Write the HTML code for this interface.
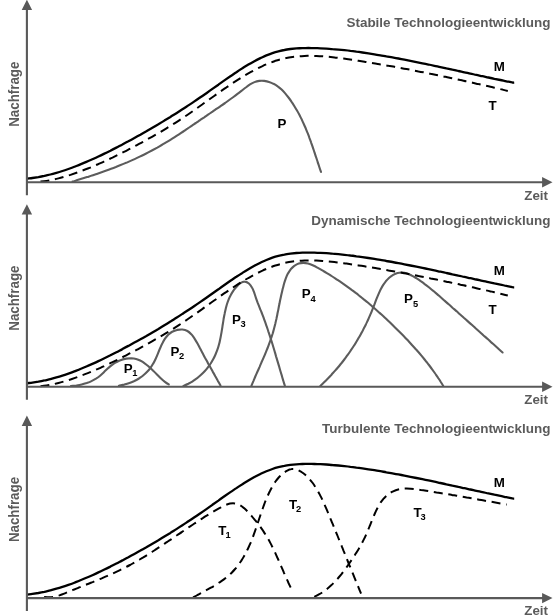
<!DOCTYPE html>
<html lang="de"><head><meta charset="utf-8"><title>Technologieentwicklung</title>
<style>html,body{margin:0;padding:0;background:#fff}body{width:553px;height:615px;position:relative;overflow:hidden}</style>
</head><body>
<svg width="553" height="615" viewBox="0 0 553 615" style="position:absolute;left:0;top:0;filter:blur(0.4px)">
<defs>
<path id="m" d="M26.4,178.7C27.4,178.5 30.4,178.3 32.4,178.0C34.4,177.7 36.4,177.4 38.4,177.1C40.4,176.7 42.4,176.3 44.4,175.9C46.4,175.4 48.4,175.0 50.4,174.5C52.4,174.0 54.4,173.4 56.4,172.8C58.4,172.3 60.4,171.7 62.4,171.0C64.4,170.4 66.4,169.7 68.4,169.0C70.4,168.3 72.4,167.6 74.4,166.8C76.4,166.0 78.4,165.3 80.4,164.4C82.4,163.6 84.4,162.8 86.4,161.9C88.4,161.1 90.4,160.2 92.4,159.3C94.4,158.4 96.4,157.5 98.4,156.5C100.4,155.6 102.4,154.6 104.4,153.6C106.4,152.7 108.4,151.7 110.4,150.7C112.4,149.6 114.4,148.6 116.4,147.6C118.4,146.6 120.4,145.5 122.4,144.5C124.4,143.4 126.4,142.3 128.4,141.3C130.4,140.2 132.4,139.1 134.4,138.0C136.4,136.9 138.4,135.8 140.4,134.7C142.4,133.5 144.4,132.4 146.4,131.3C148.4,130.1 150.4,129.0 152.4,127.8C154.4,126.6 156.4,125.4 158.4,124.3C160.4,123.1 162.4,121.9 164.4,120.6C166.4,119.4 168.4,118.2 170.4,117.0C172.4,115.7 174.4,114.5 176.4,113.2C178.4,111.9 180.4,110.6 182.4,109.3C184.4,108.1 186.4,106.7 188.4,105.4C190.4,104.1 192.4,102.8 194.4,101.4C196.4,100.1 198.4,98.7 200.4,97.3C202.4,96.0 204.4,94.6 206.4,93.2C208.4,91.8 210.4,90.4 212.4,88.9C214.4,87.5 216.4,86.1 218.4,84.7C220.4,83.2 222.4,81.8 224.4,80.4C226.4,79.0 228.4,77.6 230.4,76.2C232.4,74.9 234.4,73.5 236.4,72.2C238.4,70.8 240.4,69.5 242.4,68.3C244.4,67.0 246.4,65.8 248.4,64.6C250.4,63.4 252.4,62.3 254.4,61.2C256.4,60.1 258.4,59.1 260.4,58.1C262.4,57.2 264.4,56.2 266.4,55.4C268.4,54.6 270.4,53.8 272.4,53.1C274.4,52.4 276.4,51.8 278.4,51.3C280.4,50.8 282.4,50.3 284.4,50.0C286.4,49.6 288.4,49.3 290.4,49.0C292.4,48.8 294.4,48.6 296.4,48.4C298.4,48.3 300.4,48.2 302.4,48.1C304.4,48.1 306.4,48.0 308.4,48.0C310.4,48.0 312.4,48.1 314.4,48.1C316.4,48.2 318.4,48.2 320.4,48.3C322.4,48.4 324.4,48.5 326.4,48.6C328.4,48.8 330.4,48.9 332.4,49.1C334.4,49.2 336.4,49.4 338.4,49.6C340.4,49.8 342.4,50.0 344.4,50.2C346.4,50.4 348.4,50.6 350.4,50.9C352.4,51.1 354.4,51.4 356.4,51.7C358.4,51.9 360.4,52.2 362.4,52.5C364.4,52.8 366.4,53.1 368.4,53.4C370.4,53.7 372.4,54.0 374.4,54.3C376.4,54.7 378.4,55.0 380.4,55.3C382.4,55.7 384.4,56.0 386.4,56.4C388.4,56.7 390.4,57.1 392.4,57.4C394.4,57.8 396.4,58.2 398.4,58.5C400.4,58.9 402.4,59.3 404.4,59.7C406.4,60.1 408.4,60.5 410.4,60.9C412.4,61.3 414.4,61.7 416.4,62.1C418.4,62.5 420.4,62.9 422.4,63.3C424.4,63.7 426.4,64.1 428.4,64.5C430.4,65.0 432.4,65.4 434.4,65.8C436.4,66.2 438.4,66.7 440.4,67.1C442.4,67.5 444.4,67.9 446.4,68.4C448.4,68.8 450.4,69.2 452.4,69.7C454.4,70.1 456.4,70.5 458.4,71.0C460.4,71.4 462.4,71.9 464.4,72.3C466.4,72.7 468.4,73.2 470.4,73.6C472.4,74.0 474.4,74.5 476.4,74.9C478.4,75.3 480.4,75.8 482.4,76.2C484.4,76.6 486.4,77.1 488.4,77.5C490.4,77.9 492.4,78.3 494.4,78.8C496.4,79.2 498.4,79.6 500.4,80.0C502.4,80.4 504.4,80.9 506.4,81.3C508.4,81.7 511.1,82.2 512.4,82.5C513.7,82.7 513.9,82.8 514.2,82.8"/>
<path id="t" d="M40.5,181.6C41.5,181.5 44.5,181.2 46.5,180.9C48.5,180.6 50.5,180.2 52.5,179.8C54.5,179.4 56.5,178.9 58.5,178.4C60.5,177.9 62.5,177.3 64.5,176.7C66.5,176.1 68.5,175.5 70.5,174.9C72.5,174.2 74.5,173.5 76.5,172.8C78.5,172.1 80.5,171.4 82.5,170.6C84.5,169.9 86.5,169.1 88.5,168.3C90.5,167.5 92.5,166.6 94.5,165.8C96.5,164.9 98.5,164.1 100.5,163.2C102.5,162.3 104.5,161.3 106.5,160.4C108.5,159.5 110.5,158.5 112.5,157.6C114.5,156.6 116.5,155.6 118.5,154.6C120.5,153.6 122.5,152.6 124.5,151.6C126.5,150.6 128.5,149.5 130.5,148.5C132.5,147.4 134.5,146.4 136.5,145.3C138.5,144.2 140.5,143.2 142.5,142.1C144.5,141.0 146.5,139.9 148.5,138.7C150.5,137.6 152.5,136.5 154.5,135.3C156.5,134.2 158.5,133.0 160.5,131.9C162.5,130.7 164.5,129.5 166.5,128.3C168.5,127.1 170.5,125.9 172.5,124.6C174.5,123.4 176.5,122.1 178.5,120.8C180.5,119.5 182.5,118.2 184.5,116.8C186.5,115.5 188.5,114.1 190.5,112.7C192.5,111.3 194.5,109.9 196.5,108.5C198.5,107.1 200.5,105.7 202.5,104.3C204.5,102.8 206.5,101.4 208.5,100.0C210.5,98.5 212.5,97.1 214.5,95.7C216.5,94.3 218.5,92.8 220.5,91.4C222.5,90.0 224.5,88.6 226.5,87.3C228.5,85.9 230.5,84.6 232.5,83.2C234.5,81.9 236.5,80.6 238.5,79.3C240.5,78.1 242.5,76.8 244.5,75.6C246.5,74.5 248.5,73.3 250.5,72.2C252.5,71.1 254.5,70.0 256.5,69.0C258.5,67.9 260.5,67.0 262.5,66.1C264.5,65.1 266.5,64.3 268.5,63.5C270.5,62.7 272.5,61.9 274.5,61.2C276.5,60.6 278.5,59.9 280.5,59.4C282.5,58.8 284.5,58.4 286.5,57.9C288.5,57.5 290.5,57.2 292.5,56.9C294.5,56.6 296.5,56.4 298.5,56.3C300.5,56.1 302.5,56.0 304.5,55.9C306.5,55.9 308.5,55.8 310.5,55.8C312.5,55.9 314.5,55.9 316.5,56.0C318.5,56.1 320.5,56.2 322.5,56.3C324.5,56.5 326.5,56.6 328.5,56.8C330.5,57.0 332.5,57.2 334.5,57.4C336.5,57.7 338.5,57.9 340.5,58.2C342.5,58.5 344.5,58.7 346.5,59.0C348.5,59.3 350.5,59.6 352.5,59.9C354.5,60.2 356.5,60.5 358.5,60.8C360.5,61.1 362.5,61.4 364.5,61.7C366.5,62.1 368.5,62.4 370.5,62.7C372.5,63.0 374.5,63.4 376.5,63.7C378.5,64.0 380.5,64.4 382.5,64.7C384.5,65.1 386.5,65.4 388.5,65.8C390.5,66.1 392.5,66.5 394.5,66.8C396.5,67.2 398.5,67.6 400.5,67.9C402.5,68.3 404.5,68.7 406.5,69.0C408.5,69.4 410.5,69.8 412.5,70.2C414.5,70.6 416.5,71.0 418.5,71.4C420.5,71.7 422.5,72.1 424.5,72.5C426.5,72.9 428.5,73.3 430.5,73.8C432.5,74.2 434.5,74.6 436.5,75.0C438.5,75.4 440.5,75.8 442.5,76.2C444.5,76.6 446.5,77.1 448.5,77.5C450.5,77.9 452.5,78.3 454.5,78.8C456.5,79.2 458.5,79.6 460.5,80.1C462.5,80.5 464.5,81.0 466.5,81.4C468.5,81.8 470.5,82.3 472.5,82.7C474.5,83.2 476.5,83.6 478.5,84.1C480.5,84.5 482.5,85.0 484.5,85.4C486.5,85.9 488.5,86.4 490.5,86.8C492.5,87.3 494.5,87.7 496.5,88.2C498.5,88.7 500.6,89.2 502.5,89.6C504.4,90.1 506.9,90.7 507.8,90.9"/>
<g id="axes"><path d="M26.9,8V195.2M26.9,182.2H544" fill="none" stroke="#595959" stroke-width="2.1"/><path d="M26.9,-0.3L32.1,10H21.7Z M552.5,182.2L542.1,187.4V177Z" fill="#595959"/></g>
</defs>
<g fill="none" stroke="#5c5c5c" stroke-width="2.1" stroke-linecap="round">
<path d="M72.6,181.6C73.4,181.3 75.8,180.6 77.4,180.1C79.0,179.6 80.7,179.1 82.3,178.6C83.9,178.1 85.5,177.6 87.1,177.1C88.7,176.6 90.3,176.0 92.0,175.5C93.6,175.0 95.2,174.4 96.8,173.9C98.4,173.4 100.0,172.8 101.6,172.2C103.2,171.7 104.8,171.1 106.4,170.5C108.0,170.0 109.6,169.4 111.1,168.8C112.7,168.2 114.3,167.6 115.9,167.0C117.5,166.3 119.0,165.7 120.6,165.1C122.2,164.5 123.8,163.8 125.3,163.1C126.9,162.5 128.4,161.8 130.0,161.1C131.5,160.5 133.1,159.8 134.6,159.1C136.2,158.4 137.7,157.7 139.2,156.9C140.8,156.2 142.3,155.5 143.8,154.7C145.3,154.0 146.8,153.2 148.3,152.4C149.8,151.6 151.3,150.8 152.8,150.0C154.3,149.2 155.8,148.4 157.3,147.6C158.8,146.7 160.2,145.9 161.7,145.0C163.2,144.2 164.6,143.3 166.1,142.4C167.5,141.6 169.0,140.7 170.4,139.8C171.9,138.9 173.3,138.0 174.7,137.1C176.2,136.1 177.6,135.2 179.0,134.3C180.4,133.4 181.9,132.4 183.3,131.5C184.7,130.6 186.1,129.6 187.5,128.7C188.9,127.7 190.3,126.8 191.7,125.8C193.1,124.9 194.5,123.9 195.9,123.0C197.3,122.0 198.7,121.1 200.1,120.1C201.5,119.2 202.9,118.2 204.3,117.3C205.7,116.3 207.1,115.4 208.5,114.4C209.9,113.5 211.2,112.5 212.6,111.6C214.0,110.6 215.4,109.7 216.8,108.7C218.2,107.8 219.6,106.8 220.9,105.9C222.3,104.9 223.7,103.9 225.1,103.0C226.5,102.0 227.9,101.0 229.2,100.0C230.6,99.0 232.0,98.0 233.4,97.0C234.8,96.0 236.1,95.0 237.5,93.9C238.9,92.9 240.3,91.8 241.7,90.7C243.0,89.7 244.4,88.5 245.8,87.5C247.2,86.4 248.6,85.3 250.0,84.4C251.5,83.5 253.0,82.7 254.5,82.1C256.0,81.5 257.7,81.1 259.3,80.9C260.9,80.7 262.6,80.7 264.2,80.9C265.8,81.1 267.5,81.4 269.0,81.9C270.6,82.4 272.1,83.0 273.5,83.8C275.0,84.5 276.4,85.4 277.7,86.4C279.1,87.4 280.4,88.5 281.6,89.6C282.8,90.8 284.0,92.1 285.2,93.4C286.3,94.7 287.4,96.1 288.5,97.5C289.6,98.9 290.6,100.3 291.6,101.8C292.6,103.2 293.5,104.7 294.4,106.2C295.3,107.7 296.2,109.2 297.0,110.6C297.9,112.1 298.7,113.6 299.5,115.1C300.3,116.6 301.0,118.1 301.8,119.6C302.5,121.2 303.2,122.7 303.9,124.2C304.6,125.7 305.2,127.3 305.9,128.8C306.5,130.3 307.1,131.9 307.8,133.4C308.4,135.0 309.0,136.5 309.5,138.1C310.1,139.7 310.7,141.2 311.2,142.8C311.8,144.4 312.4,146.0 312.9,147.6C313.4,149.2 314.0,150.8 314.5,152.4C315.0,154.0 315.6,155.6 316.1,157.2C316.6,158.8 317.2,160.4 317.7,162.1C318.2,163.7 318.8,165.3 319.3,167.0C319.8,168.6 320.7,171.1 321.0,171.9"/>
<path d="M71.0,386.0C71.9,385.9 74.6,385.7 76.4,385.5C78.2,385.2 80.0,384.9 81.7,384.5C83.4,384.1 85.1,383.6 86.7,383.1C88.3,382.5 89.9,381.9 91.5,381.1C93.0,380.4 94.5,379.6 96.0,378.7C97.4,377.8 98.8,376.8 100.1,375.7C101.4,374.6 102.7,373.4 103.9,372.2C105.2,371.0 106.4,369.7 107.7,368.5C109.0,367.4 110.3,366.2 111.8,365.1C113.2,364.1 114.7,363.1 116.3,362.2C117.9,361.4 119.5,360.6 121.2,360.0C122.8,359.4 124.5,358.9 126.2,358.6C127.9,358.3 129.6,358.2 131.2,358.2C132.8,358.3 134.5,358.5 136.1,358.9C137.6,359.3 139.2,360.0 140.7,360.8C142.2,361.5 143.6,362.5 145.0,363.6C146.5,364.6 147.8,365.8 149.2,367.0C150.6,368.2 151.9,369.5 153.2,370.8C154.6,372.1 155.9,373.4 157.2,374.7C158.5,376.0 159.7,377.3 161.0,378.5C162.3,379.7 163.6,380.8 164.9,381.8C166.2,382.8 168.1,384.0 168.8,384.4"/>
<path d="M118.9,385.7C119.8,385.5 122.5,385.0 124.3,384.6C126.1,384.1 127.8,383.6 129.5,383.0C131.2,382.4 132.8,381.7 134.4,381.0C136.0,380.2 137.5,379.4 139.0,378.5C140.4,377.5 141.8,376.6 143.1,375.5C144.5,374.4 145.7,373.3 146.9,372.0C148.1,370.8 149.3,369.5 150.3,368.1C151.3,366.7 152.3,365.2 153.2,363.6C154.1,362.1 154.9,360.4 155.7,358.7C156.5,357.0 157.2,355.3 157.9,353.6C158.6,351.8 159.3,350.0 160.1,348.3C160.8,346.6 161.5,344.9 162.4,343.3C163.2,341.7 164.0,340.2 165.0,338.7C166.0,337.3 167.0,336.0 168.2,334.8C169.4,333.7 170.7,332.6 172.2,331.8C173.7,331.0 175.4,330.3 177.1,329.9C178.8,329.6 180.7,329.4 182.4,329.5C184.1,329.7 185.9,330.2 187.4,331.0C188.9,331.8 190.2,333.1 191.5,334.4C192.7,335.7 193.7,337.3 194.7,338.8C195.7,340.3 196.6,341.9 197.5,343.5C198.4,345.1 199.2,346.7 200.0,348.3C200.9,349.9 201.7,351.5 202.5,353.1C203.3,354.6 204.2,356.2 205.0,357.8C205.9,359.3 206.7,360.9 207.6,362.4C208.4,363.9 209.3,365.5 210.2,367.0C211.0,368.5 211.9,370.1 212.7,371.6C213.6,373.1 214.5,374.7 215.3,376.2C216.2,377.8 217.1,379.3 217.9,380.9C218.8,382.5 220.1,384.9 220.5,385.6"/>
<path d="M183.5,385.9C184.3,385.6 186.7,384.6 188.3,383.8C189.8,383.0 191.3,382.2 192.7,381.3C194.2,380.3 195.6,379.4 196.9,378.3C198.3,377.3 199.6,376.2 200.8,375.1C202.1,373.9 203.3,372.7 204.4,371.5C205.6,370.2 206.7,369.0 207.7,367.6C208.7,366.3 209.7,364.9 210.7,363.5C211.6,362.1 212.5,360.6 213.3,359.1C214.1,357.6 214.8,356.1 215.5,354.5C216.2,352.9 216.8,351.3 217.4,349.7C218.0,348.1 218.5,346.5 218.9,344.8C219.4,343.1 219.8,341.4 220.1,339.7C220.5,338.0 220.8,336.3 221.1,334.6C221.5,332.9 221.7,331.1 222.0,329.4C222.3,327.7 222.5,325.9 222.8,324.2C223.1,322.5 223.4,320.7 223.6,319.0C223.9,317.3 224.2,315.6 224.6,313.9C224.9,312.2 225.3,310.6 225.7,308.9C226.1,307.3 226.5,305.6 227.0,304.0C227.5,302.5 228.1,300.9 228.7,299.4C229.3,297.8 230.0,296.3 230.8,294.9C231.6,293.4 232.5,292.0 233.4,290.6C234.4,289.3 235.4,287.9 236.6,286.7C237.7,285.4 239.0,284.0 240.4,283.1C241.7,282.3 243.3,281.5 244.7,281.6C246.1,281.6 247.7,282.5 248.9,283.5C250.1,284.6 251.2,286.1 252.1,287.7C253.0,289.2 253.6,291.1 254.3,292.8C254.9,294.6 255.4,296.4 256.0,298.2C256.6,299.9 257.2,301.6 257.8,303.2C258.5,304.8 259.1,306.3 259.7,307.9C260.3,309.5 261.0,311.0 261.6,312.5C262.2,314.1 262.8,315.6 263.4,317.2C264.0,318.8 264.5,320.3 265.1,321.9C265.7,323.5 266.2,325.1 266.8,326.7C267.3,328.3 267.9,329.9 268.4,331.6C269.0,333.2 269.5,334.8 270.0,336.4C270.5,338.1 271.0,339.7 271.6,341.3C272.1,343.0 272.6,344.6 273.1,346.3C273.6,347.9 274.1,349.6 274.6,351.2C275.1,352.9 275.6,354.5 276.0,356.2C276.5,357.8 277.0,359.5 277.5,361.1C278.0,362.8 278.5,364.4 279.0,366.1C279.4,367.7 279.9,369.4 280.4,371.0C280.9,372.6 281.4,374.3 281.9,375.9C282.3,377.5 282.8,379.1 283.3,380.8C283.8,382.4 284.6,384.8 284.8,385.6"/>
<path d="M251.5,385.7C251.8,385.0 252.7,382.7 253.4,381.1C254.0,379.6 254.7,378.0 255.3,376.5C256.0,374.9 256.7,373.4 257.4,371.8C258.1,370.2 258.8,368.7 259.5,367.1C260.1,365.5 260.8,363.9 261.5,362.3C262.2,360.8 262.9,359.2 263.6,357.6C264.3,356.0 265.0,354.4 265.6,352.8C266.3,351.2 266.9,349.6 267.6,348.0C268.2,346.4 268.8,344.8 269.4,343.2C270.0,341.6 270.6,340.0 271.1,338.3C271.6,336.7 272.2,335.1 272.7,333.5C273.1,331.9 273.6,330.3 274.0,328.7C274.5,327.0 274.9,325.4 275.3,323.8C275.6,322.2 276.0,320.6 276.4,318.9C276.7,317.3 277.1,315.7 277.4,314.0C277.7,312.4 278.1,310.8 278.4,309.1C278.7,307.4 279.0,305.8 279.4,304.1C279.7,302.4 280.0,300.8 280.4,299.1C280.8,297.4 281.1,295.7 281.5,294.0C281.9,292.3 282.3,290.5 282.7,288.8C283.2,287.1 283.6,285.3 284.1,283.5C284.6,281.8 285.2,280.1 285.8,278.4C286.4,276.7 287.1,275.1 287.9,273.6C288.8,272.1 289.7,270.6 290.7,269.3C291.8,268.1 293.0,266.9 294.3,265.9C295.7,265.0 297.2,264.1 298.7,263.6C300.2,263.1 301.8,262.9 303.4,262.9C304.9,262.9 306.5,263.2 308.0,263.6C309.6,264.0 311.2,264.6 312.7,265.3C314.2,266.0 315.8,266.8 317.3,267.6C318.9,268.5 320.4,269.3 321.9,270.2C323.4,271.1 324.9,271.9 326.4,272.8C327.9,273.7 329.3,274.6 330.8,275.5C332.3,276.5 333.7,277.4 335.2,278.3C336.6,279.3 338.0,280.2 339.5,281.2C340.9,282.1 342.3,283.1 343.7,284.1C345.1,285.1 346.5,286.1 347.9,287.1C349.3,288.1 350.7,289.1 352.0,290.1C353.4,291.1 354.8,292.2 356.1,293.2C357.5,294.2 358.8,295.3 360.1,296.3C361.5,297.4 362.8,298.5 364.1,299.6C365.4,300.6 366.8,301.7 368.1,302.8C369.4,303.9 370.7,305.0 371.9,306.1C373.2,307.2 374.5,308.4 375.8,309.5C377.1,310.6 378.3,311.7 379.6,312.9C380.9,314.0 382.1,315.2 383.4,316.3C384.6,317.5 385.9,318.6 387.1,319.8C388.3,321.0 389.6,322.1 390.8,323.3C392.0,324.5 393.2,325.7 394.5,326.9C395.7,328.1 396.9,329.3 398.1,330.5C399.3,331.7 400.5,332.9 401.7,334.1C402.9,335.3 404.1,336.5 405.2,337.7C406.4,339.0 407.6,340.2 408.8,341.5C409.9,342.7 411.1,343.9 412.2,345.2C413.4,346.5 414.5,347.7 415.6,349.0C416.8,350.3 417.9,351.6 419.0,352.8C420.1,354.1 421.2,355.4 422.3,356.7C423.4,358.1 424.5,359.4 425.5,360.7C426.6,362.0 427.6,363.4 428.7,364.7C429.7,366.1 430.8,367.4 431.8,368.8C432.8,370.2 433.8,371.6 434.8,373.0C435.8,374.4 436.7,375.8 437.7,377.2C438.6,378.6 439.6,380.0 440.5,381.5C441.4,382.9 442.8,385.1 443.2,385.9"/>
<path d="M320.3,386.0C320.9,385.4 322.9,383.5 324.1,382.3C325.4,381.0 326.6,379.8 327.9,378.5C329.1,377.3 330.3,376.0 331.5,374.7C332.6,373.4 333.8,372.2 334.9,370.9C336.1,369.6 337.2,368.3 338.3,367.0C339.4,365.7 340.5,364.3 341.6,363.0C342.6,361.7 343.7,360.3 344.7,359.0C345.7,357.6 346.7,356.3 347.7,354.9C348.7,353.5 349.7,352.1 350.6,350.7C351.6,349.3 352.5,347.9 353.4,346.5C354.4,345.1 355.3,343.7 356.1,342.2C357.0,340.8 357.9,339.3 358.7,337.8C359.6,336.4 360.4,334.9 361.2,333.4C362.1,331.9 362.9,330.4 363.6,328.8C364.4,327.3 365.2,325.8 366.0,324.2C366.7,322.6 367.5,321.1 368.2,319.5C368.9,317.9 369.6,316.3 370.3,314.7C371.0,313.1 371.7,311.4 372.3,309.8C373.0,308.1 373.7,306.4 374.3,304.8C375.0,303.1 375.6,301.4 376.2,299.7C376.9,298.0 377.6,296.4 378.3,294.7C379.0,293.1 379.7,291.5 380.4,289.9C381.2,288.4 382.0,286.8 382.9,285.4C383.8,284.0 384.8,282.6 385.8,281.3C386.9,280.0 388.0,278.8 389.2,277.7C390.5,276.6 391.8,275.6 393.2,274.8C394.6,274.0 396.1,273.3 397.6,272.9C399.1,272.5 400.6,272.4 402.2,272.5C403.7,272.6 405.3,272.9 406.9,273.4C408.5,273.9 410.1,274.7 411.6,275.5C413.2,276.2 414.7,277.2 416.3,278.2C417.8,279.1 419.3,280.1 420.7,281.2C422.2,282.2 423.6,283.2 425.0,284.3C426.4,285.3 427.8,286.4 429.2,287.5C430.5,288.6 431.8,289.7 433.2,290.8C434.5,291.9 435.8,293.0 437.1,294.1C438.4,295.2 439.7,296.4 441.0,297.5C442.3,298.6 443.5,299.8 444.8,300.9C446.1,302.0 447.4,303.2 448.7,304.3C450.0,305.4 451.3,306.6 452.5,307.7C453.8,308.8 455.1,310.0 456.4,311.1C457.7,312.3 459.0,313.4 460.2,314.5C461.5,315.7 462.8,316.8 464.1,318.0C465.4,319.1 466.7,320.3 467.9,321.4C469.2,322.5 470.5,323.7 471.8,324.8C473.1,326.0 474.4,327.1 475.6,328.3C476.9,329.4 478.2,330.6 479.5,331.7C480.8,332.9 482.1,334.0 483.3,335.2C484.6,336.3 485.9,337.5 487.2,338.6C488.5,339.8 489.7,340.9 491.0,342.1C492.3,343.2 493.6,344.4 494.9,345.5C496.2,346.7 497.4,347.8 498.7,349.0C500.0,350.2 501.9,351.9 502.6,352.5"/>
</g>
<g fill="none" stroke="#000" stroke-width="2.3">
<use href="#m" y="0"/>
<use href="#m" y="204.6"/>
<use href="#m" y="415.9"/>
</g>
<g fill="none" stroke="#000" stroke-width="2.0" stroke-dasharray="8.9 5.65">
<use href="#t" y="0"/><use href="#t" y="204.6"/>
<path stroke-dasharray="9 5.72" d="M44.1,596.9C45.0,597.0 47.8,597.4 49.5,597.3C51.3,597.3 52.9,597.0 54.6,596.7C56.2,596.4 57.8,595.9 59.4,595.4C61.0,594.8 62.6,594.2 64.2,593.6C65.7,593.0 67.3,592.3 68.9,591.6C70.4,591.0 72.0,590.4 73.6,589.7C75.2,589.1 76.8,588.5 78.3,587.8C79.9,587.2 81.5,586.5 83.1,585.9C84.7,585.3 86.3,584.6 87.9,584.0C89.5,583.4 91.1,582.7 92.6,582.1C94.2,581.4 95.8,580.8 97.4,580.1C99.0,579.4 100.6,578.8 102.2,578.1C103.7,577.4 105.3,576.8 106.9,576.1C108.5,575.4 110.0,574.7 111.6,574.0C113.2,573.3 114.7,572.6 116.3,571.8C117.8,571.1 119.4,570.4 120.9,569.6C122.4,568.9 123.9,568.1 125.5,567.3C127.0,566.6 128.5,565.8 130.0,565.0C131.5,564.2 133.0,563.3 134.5,562.5C135.9,561.7 137.4,560.8 138.9,560.0C140.4,559.1 141.8,558.2 143.3,557.4C144.7,556.5 146.2,555.6 147.6,554.7C149.1,553.8 150.5,552.9 151.9,552.0C153.4,551.1 154.8,550.1 156.2,549.2C157.6,548.3 159.1,547.4 160.5,546.4C161.9,545.5 163.3,544.5 164.7,543.6C166.1,542.6 167.6,541.7 169.0,540.7C170.4,539.8 171.8,538.8 173.2,537.9C174.6,536.9 176.0,535.9 177.4,535.0C178.8,534.0 180.3,533.1 181.7,532.1C183.1,531.1 184.5,530.2 185.9,529.2C187.3,528.3 188.7,527.3 190.2,526.4C191.6,525.4 193.0,524.5 194.5,523.5C195.9,522.6 197.3,521.6 198.8,520.7C200.2,519.8 201.6,518.8 203.1,517.9C204.5,517.0 206.0,516.1 207.5,515.2C208.9,514.3 210.4,513.4 211.9,512.5C213.4,511.6 214.8,510.8 216.3,509.9C217.8,509.0 219.3,508.1 220.9,507.3C222.4,506.5 223.9,505.7 225.4,505.1C226.9,504.5 228.5,503.9 230.0,503.6C231.6,503.3 233.1,503.2 234.7,503.4C236.2,503.6 237.8,504.1 239.4,504.9C240.9,505.7 242.5,506.9 244.0,508.1C245.4,509.3 246.8,510.7 248.0,512.0C249.3,513.3 250.4,514.6 251.5,515.8C252.6,517.1 253.6,518.4 254.6,519.7C255.7,521.0 256.8,522.3 257.8,523.6C258.9,525.0 259.9,526.3 260.9,527.7C261.9,529.1 262.9,530.5 263.8,531.9C264.7,533.3 265.6,534.8 266.5,536.2C267.4,537.7 268.2,539.1 269.1,540.6C269.9,542.1 270.7,543.6 271.5,545.1C272.2,546.6 273.0,548.2 273.7,549.7C274.5,551.2 275.2,552.8 275.9,554.3C276.6,555.9 277.3,557.5 278.0,559.0C278.7,560.6 279.4,562.2 280.1,563.7C280.8,565.3 281.4,566.9 282.1,568.4C282.8,570.0 283.5,571.6 284.1,573.1C284.8,574.7 285.5,576.3 286.2,577.8C286.9,579.4 287.6,580.9 288.3,582.5C289.0,584.0 289.7,585.6 290.5,587.1C291.2,588.6 292.4,590.9 292.8,591.6"/>
<path stroke-dasharray="9 5.66" d="M193.1,597.4C193.8,597.0 196.0,595.8 197.4,595.0C198.9,594.2 200.4,593.5 201.9,592.7C203.4,591.9 204.9,591.1 206.4,590.2C207.9,589.4 209.4,588.6 210.9,587.7C212.4,586.9 213.9,586.0 215.4,585.1C216.9,584.2 218.3,583.3 219.7,582.3C221.2,581.4 222.6,580.4 223.9,579.4C225.3,578.3 226.6,577.3 227.9,576.2C229.2,575.1 230.5,573.9 231.7,572.7C232.9,571.5 234.0,570.3 235.1,569.0C236.2,567.8 237.3,566.4 238.3,565.1C239.3,563.7 240.2,562.3 241.2,560.9C242.1,559.5 243.0,558.1 243.8,556.6C244.7,555.1 245.5,553.6 246.3,552.1C247.0,550.6 247.8,549.0 248.5,547.5C249.2,545.9 249.9,544.4 250.6,542.8C251.2,541.2 251.9,539.7 252.5,538.1C253.1,536.5 253.7,534.9 254.2,533.3C254.8,531.7 255.4,530.1 255.9,528.5C256.5,526.9 257.0,525.3 257.5,523.7C258.1,522.2 258.6,520.6 259.1,519.0C259.7,517.4 260.2,515.8 260.7,514.2C261.3,512.6 261.8,511.0 262.4,509.4C263.0,507.8 263.5,506.2 264.1,504.6C264.7,503.0 265.3,501.4 266.0,499.8C266.6,498.3 267.3,496.7 268.0,495.1C268.7,493.6 269.4,492.0 270.2,490.5C271.0,488.9 271.8,487.4 272.7,485.9C273.6,484.4 274.5,482.9 275.5,481.5C276.5,480.1 277.6,478.8 278.7,477.5C279.9,476.2 281.1,475.0 282.5,473.9C283.8,472.8 285.3,471.7 286.8,470.9C288.3,470.1 290.0,469.3 291.5,469.1C293.1,468.8 294.6,469.0 296.1,469.3C297.6,469.7 299.1,470.5 300.5,471.3C301.9,472.1 303.3,473.3 304.6,474.3C305.9,475.4 307.1,476.7 308.3,477.9C309.5,479.1 310.6,480.4 311.6,481.7C312.7,483.0 313.7,484.4 314.6,485.8C315.6,487.2 316.4,488.7 317.3,490.1C318.2,491.6 319.0,493.1 319.8,494.6C320.6,496.1 321.3,497.7 322.1,499.2C322.8,500.8 323.5,502.3 324.2,503.9C324.9,505.5 325.6,507.1 326.3,508.7C326.9,510.2 327.6,511.8 328.3,513.4C328.9,515.0 329.6,516.6 330.2,518.2C330.9,519.7 331.5,521.3 332.2,522.9C332.9,524.5 333.5,526.0 334.1,527.6C334.8,529.2 335.4,530.7 336.1,532.3C336.7,533.9 337.4,535.4 338.0,537.0C338.6,538.6 339.3,540.1 339.9,541.7C340.6,543.3 341.2,544.8 341.8,546.4C342.5,547.9 343.1,549.5 343.7,551.1C344.4,552.6 345.0,554.2 345.6,555.8C346.3,557.3 346.9,558.9 347.5,560.5C348.2,562.0 348.8,563.6 349.4,565.2C350.1,566.7 350.7,568.3 351.4,569.9C352.0,571.4 352.6,573.0 353.3,574.6C353.9,576.2 354.5,577.7 355.2,579.3C355.8,580.9 356.5,582.5 357.1,584.0C357.8,585.6 358.4,587.2 359.1,588.8C359.7,590.4 360.7,592.8 361.0,593.6"/>
<path stroke-dasharray="9 5.66" d="M314.3,596.8C315.0,596.4 317.4,595.3 318.9,594.4C320.4,593.6 321.9,592.7 323.3,591.7C324.7,590.8 326.0,589.7 327.3,588.7C328.7,587.6 329.9,586.5 331.2,585.3C332.4,584.2 333.6,583.0 334.8,581.8C336.0,580.6 337.1,579.3 338.2,578.0C339.3,576.7 340.4,575.4 341.5,574.1C342.5,572.7 343.5,571.4 344.6,570.0C345.6,568.6 346.6,567.2 347.6,565.8C348.6,564.5 349.6,563.1 350.5,561.6C351.5,560.2 352.4,558.8 353.4,557.4C354.3,556.0 355.2,554.6 356.1,553.1C357.0,551.7 357.9,550.2 358.8,548.8C359.6,547.3 360.5,545.9 361.3,544.4C362.1,542.9 362.9,541.4 363.6,539.9C364.4,538.4 365.1,536.9 365.8,535.3C366.5,533.8 367.1,532.3 367.8,530.7C368.5,529.1 369.1,527.6 369.7,526.0C370.4,524.4 371.0,522.8 371.7,521.2C372.3,519.6 373.0,518.0 373.6,516.4C374.3,514.8 375.0,513.2 375.7,511.6C376.5,510.0 377.3,508.4 378.1,506.9C378.9,505.3 379.8,503.8 380.7,502.4C381.7,501.0 382.7,499.7 383.8,498.4C385.0,497.2 386.1,496.0 387.4,495.0C388.7,494.0 390.0,493.0 391.4,492.2C392.8,491.4 394.3,490.8 395.8,490.2C397.3,489.7 398.9,489.3 400.5,489.0C402.1,488.8 403.7,488.6 405.4,488.6C407.1,488.5 408.8,488.6 410.5,488.7C412.2,488.8 414.0,488.9 415.7,489.2C417.5,489.4 419.2,489.6 421.0,489.9C422.7,490.1 424.5,490.4 426.2,490.7C427.9,491.0 429.7,491.3 431.4,491.5C433.1,491.8 434.8,492.1 436.5,492.4C438.2,492.6 439.9,492.9 441.6,493.2C443.3,493.5 445.0,493.8 446.6,494.0C448.3,494.3 450.0,494.6 451.7,494.9C453.3,495.2 455.0,495.4 456.6,495.7C458.3,496.0 460.0,496.3 461.6,496.6C463.3,496.9 464.9,497.2 466.6,497.5C468.2,497.7 469.9,498.0 471.5,498.3C473.2,498.6 474.9,498.9 476.5,499.2C478.2,499.5 479.8,499.8 481.5,500.1C483.2,500.4 484.8,500.7 486.5,501.0C488.2,501.3 489.8,501.6 491.5,501.8C493.2,502.1 494.9,502.4 496.6,502.7C498.2,503.0 499.9,503.3 501.6,503.6C503.3,503.9 505.9,504.4 506.8,504.6"/>
</g>
<use href="#axes" y="0"/>
<use href="#axes" y="204.6"/>
<use href="#axes" y="415.9"/>
<g font-family="'Liberation Sans', Arial, sans-serif" font-weight="bold" font-size="13.33">
<g fill="#5b5b5b">
<text x="550.5" y="27.3" text-anchor="end" font-size="13.48">Stabile Technologieentwicklung</text>
<text x="550.5" y="224.6" text-anchor="end" font-size="13.48">Dynamische Technologieentwicklung</text>
<text x="550.5" y="433.0" text-anchor="end" font-size="13.48">Turbulente Technologieentwicklung</text>
<text x="548" y="199.8" text-anchor="end">Zeit</text>
<text transform="translate(19.2,126.8) rotate(-90) scale(1,1.14)">Nachfrage</text>
<text x="548" y="404.2" text-anchor="end">Zeit</text>
<text transform="translate(19.2,330.7) rotate(-90) scale(1,1.14)">Nachfrage</text>
<text x="548" y="615.2" text-anchor="end">Zeit</text>
<text transform="translate(19.2,542.1) rotate(-90) scale(1,1.14)">Nachfrage</text>
</g>
<g fill="#000">
<text x="493.7" y="70.9">M</text>
<text x="493.7" y="275.4">M</text>
<text x="493.7" y="486.5">M</text>
<text x="488.6" y="109.5">T</text>
<text x="488.6" y="314.1">T</text>
<text x="277.5" y="127.7">P</text>
<text x="123.7" y="373.0">P<tspan font-size="9.33" dy="3.2" x="132.3">1</tspan></text>
<text x="170.6" y="355.7">P<tspan font-size="9.33" dy="3.2" x="179.0">2</tspan></text>
<text x="232.0" y="323.7">P<tspan font-size="9.33" dy="3.2" x="240.4">3</tspan></text>
<text x="301.7" y="298.4">P<tspan font-size="9.33" dy="3.2" x="310.6">4</tspan></text>
<text x="404.0" y="303.4">P<tspan font-size="9.33" dy="3.2" x="413.1">5</tspan></text>
<text x="218.3" y="534.7">T<tspan font-size="9.33" dy="3.2" x="225.6">1</tspan></text>
<text x="288.9" y="508.9">T<tspan font-size="9.33" dy="3.2" x="296.1">2</tspan></text>
<text x="413.6" y="517.2">T<tspan font-size="9.33" dy="3.2" x="420.6">3</tspan></text>
</g></g>
</svg>
</body></html>
